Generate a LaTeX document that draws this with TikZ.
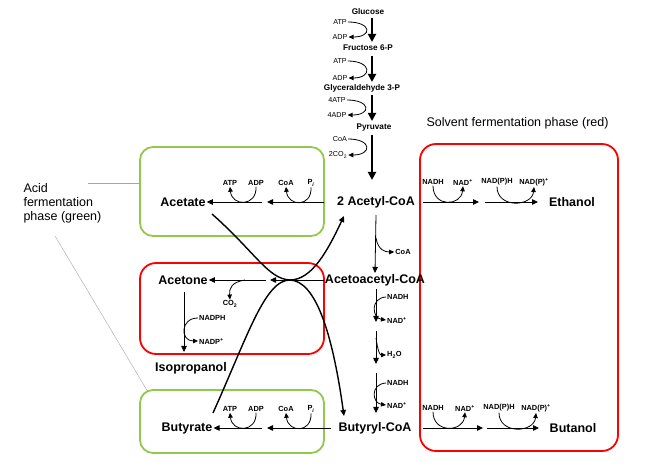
\documentclass[tikz,border=0pt]{standalone}
\usepackage{fontspec}
\setmainfont{Liberation Sans}
\usetikzlibrary{arrows.meta}
\begin{document}
\begin{tikzpicture}[x=1pt,y=-1pt,
  main/.style={font=\bfseries\fontsize{12.5}{14}\selectfont,inner sep=1pt},
  met/.style={font=\bfseries\fontsize{8.2}{9}\selectfont,inner sep=1pt},
  sm/.style={font=\fontsize{7.2}{8}\selectfont,inner sep=1pt},
  cof/.style={font=\bfseries\fontsize{7.4}{9}\selectfont,inner sep=1pt},
  arr/.style={line width=0.8pt,-{Triangle[length=6pt,width=5.5pt]}},
  thick arr/.style={line width=1.8pt,-{Triangle[length=8pt,width=8pt]}},
  side/.style={line width=0.8pt,-{Triangle[length=5pt,width=4.5pt]}},
  rbox/.style={draw=red,line width=1.8pt,rounded corners=16pt},
  lead/.style={draw=gray!70,line width=0.4pt}]
\definecolor{gcol}{RGB}{146,200,80}
\tikzset{gbox/.style={draw=gcol,line width=1.8pt,rounded corners=13pt}}
\useasboundingbox (0,0) rectangle (649,473);
% boxes
\draw[gbox] (140,147) rectangle (324,236);
\draw[gbox] (140,390) rectangle (324,453);
\draw[rbox] (140,263) rectangle (324,354);
\draw[rbox] (420,144) rectangle (618,451);
% phase labels
\node[font=\fontsize{12.5}{14}\selectfont,anchor=west] (solv) at (423,123) {Solvent fermentation phase (red)};
\node[font=\fontsize{12.5}{14}\selectfont,align=left,anchor=west] (acid) at (20,203) {Acid\\fermentation\\phase (green)};
\coordinate (la1) at (88,183); \coordinate (la2) at (140,183);
\coordinate (lb1) at (55,236); \coordinate (lb2) at (148,392);
\draw[lead] (la1) -- (la2);
\draw[lead] (lb1) -- (lb2);
% glycolysis
\node[met] (glc) at (368,12) {Glucose};
\node[met] (f6p) at (368,48) {Fructose 6-P};
\node[met] (g3p) at (362,88) {Glyceraldehyde 3-P};
\node[met] (pyr) at (374,128) {Pyruvate};
\node[sm] (a1) at (340,22) {ATP}; \node[sm] (d1) at (340,37) {ADP};
\node[sm] (a2) at (340,61) {ATP}; \node[sm] (d2) at (340,78) {ADP};
\node[sm] (a3) at (337,100) {4ATP}; \node[sm] (d3) at (337,115) {4ADP};
\node[sm] (c4) at (340,139) {CoA}; \node[sm] (d4) at (338,155) {2CO\textsubscript{2}};
\draw[thick arr] (372,18) -- (372,42);
\draw[thick arr] (372,56) -- (372,82);
\draw[thick arr] (372,95) -- (372,121);
\draw[thick arr] (372,135) -- (372,180);
\foreach \a/\d in {a1/d1,a2/d2,a3/d3,c4/d4}{
  \draw[side] (\a.east) .. controls +(24,0) and +(24,0) .. (\d.east);}
% main nodes
\node[main] (acoa) at (376,202) {2 Acetyl-CoA};
\node[main] (acet) at (183,202) {Acetate};
\node[main] (etoh) at (572,202) {Ethanol};
\node[main] (aacoa) at (375,280) {Acetoacetyl-CoA};
\node[main] (acn) at (183,280) {Acetone};
\node[main] (ipa) at (191,368) {Isopropanol};
\node[main] (bcoa) at (375,428) {Butyryl-CoA};
\node[main] (buty) at (187,428) {Butyrate};
\node[main] (buoh) at (573,428) {Butanol};
% acetate row
\coordinate (m1) at (267,202);
\draw[arr] (324,202) -- (m1);
\draw[arr] (262,202) -- (acet.east);
\node[cof] (atp1) at (230,183) {ATP}; \node[cof] (adp1) at (256,183) {ADP};
\node[cof] (coa1) at (286,183) {CoA}; \node[cof] (pi1) at (311,183) {P\textsubscript{\itshape i}};
\draw[side] (adp1.south) .. controls +(1,20) and +(2,20) .. (atp1.south);
\draw[side] (pi1.south) .. controls +(1,20) and +(2,20) .. (coa1.south);
% ethanol row
\draw[arr] (423,202) -- (479,202);
\draw[arr] (485,202) -- (538,202);
\node[cof] (nadh1) at (433,182) {NADH}; \node[cof] (nad1) at (463,182) {NAD\textsuperscript{+}};
\node[cof] (npH1) at (497,182) {NAD(P)H}; \node[cof] (np1) at (534,182) {NAD(P)\textsuperscript{+}};
\draw[side] (nadh1.south) .. controls +(0,22) and +(-2,20) .. (nad1.south);
\draw[side] (npH1.south) .. controls +(0,22) and +(-2,20) .. (np1.south);
% down acetyl -> acetoacetyl
\draw[arr] (376,215) -- (aacoa.north);
\node[cof] (coa2) at (403,252) {CoA};
\draw[side] (376,238) .. controls (378,250) and (385,252) .. (coa2.west);
% acetone row
\draw[arr] (aacoa.west) -- (270,280);
\draw[arr] (266,280) -- (acn.east);
\node[cof] (co2) at (230,304) {CO\textsubscript{2}};
\draw[side] (245,280) .. controls (232,282) and (229,288) .. (co2.north);
\draw[arr] (184,292) -- (184,352);
\node[cof,anchor=west] (nph) at (198,318) {NADPH}; \node[cof,anchor=west] (npp) at (198,341) {NADP\textsuperscript{+}};
\draw[side] (nph.west) .. controls (180,318) and (180,341) .. (npp.west);
% acetoacetyl -> butyryl
\draw[arr] (376,289) -- (376,322);
\node[cof,anchor=west] (nadh2) at (386,297) {NADH}; \node[cof,anchor=west] (nad2) at (386,320) {NAD\textsuperscript{+}};
\draw[side] (nadh2.west) .. controls (370,298) and (372,318) .. (nad2.west);
\draw[arr] (376,331) -- (376,364);
\node[cof,anchor=west] (h2o) at (386,355) {H\textsubscript{2}O};
\draw[side] (376,338) .. controls (378,352) and (380,355) .. (h2o.west);
\draw[arr] (376,373) -- (376,413);
\node[cof,anchor=west] (nadh3) at (386,383) {NADH}; \node[cof,anchor=west] (nad3) at (386,405) {NAD\textsuperscript{+}};
\draw[side] (nadh3.west) .. controls (370,384) and (372,403) .. (nad3.west);
% butyrate row
\draw[arr] (331,428) -- (267,428);
\draw[arr] (262,428) -- (buty.east);
\node[cof] (atp2) at (230,409) {ATP}; \node[cof] (adp2) at (256,409) {ADP};
\node[cof] (coa3) at (286,409) {CoA}; \node[cof] (pi2) at (311,409) {P\textsubscript{\itshape i}};
\draw[side] (adp2.south) .. controls +(1,20) and +(2,20) .. (atp2.south);
\draw[side] (pi2.south) .. controls +(1,20) and +(2,20) .. (coa3.south);
% butanol row
\draw[arr] (423,428) -- (483,428);
\draw[arr] (487,428) -- (539,428);
\node[cof] (nadh4) at (433,408) {NADH}; \node[cof] (nad4) at (465,408) {NAD\textsuperscript{+}};
\node[cof] (npH2) at (499,408) {NAD(P)H}; \node[cof] (np2) at (536,408) {NAD(P)\textsuperscript{+}};
\draw[side] (nadh4.south) .. controls +(0,22) and +(-2,20) .. (nad4.south);
\draw[side] (npH2.south) .. controls +(0,22) and +(-2,20) .. (np2.south);
% crossing curves
\coordinate (x1) at (290,280);
\draw[arr,line width=1.4pt] (212,214) .. controls (255,252) and (268,279) .. (x1) .. controls (315,281) and (332,330) .. (344,416);
\draw[arr,line width=1.4pt] (213,413) .. controls (248,335) and (265,280) .. (x1) .. controls (312,280) and (328,250) .. (344,216);
\end{tikzpicture}
\end{document}
